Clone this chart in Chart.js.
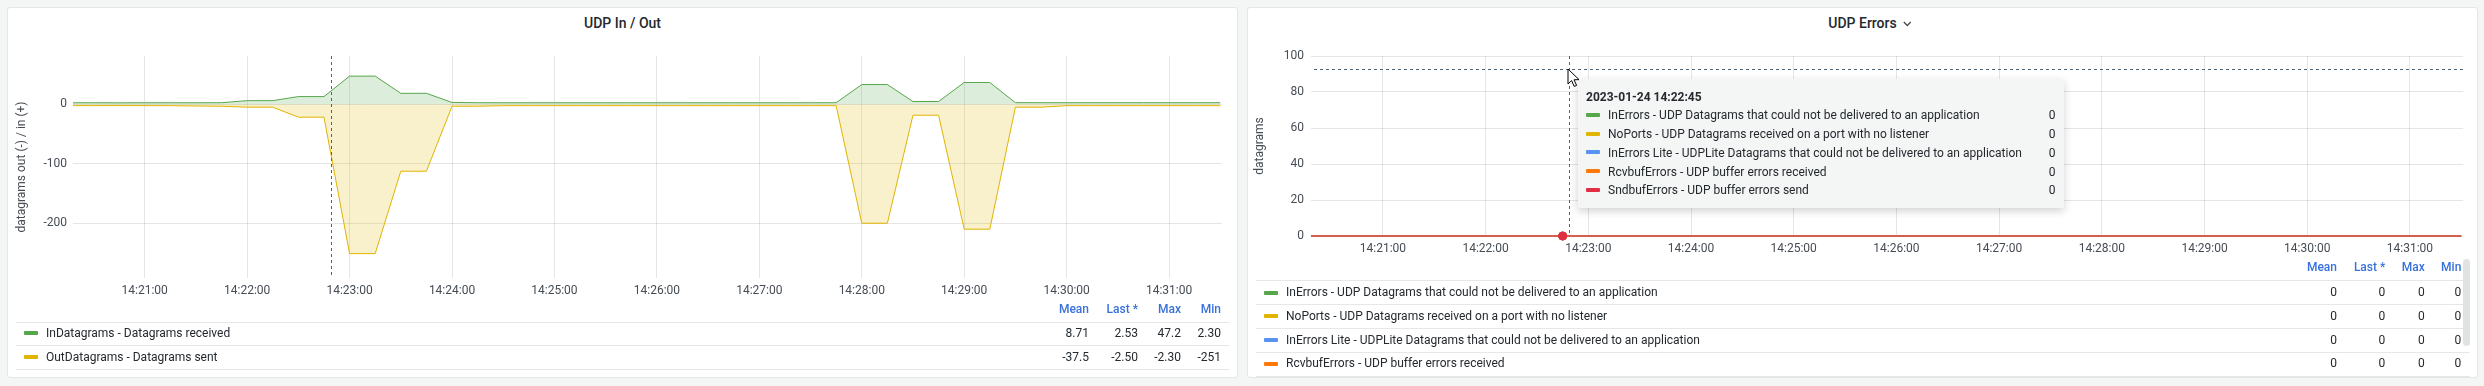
<!DOCTYPE html>
<html>
<head>
<meta charset="utf-8">
<title>UDP In / Out - UDP Errors</title>
<script src="https://cdn.jsdelivr.net/npm/chart.js@4.4.1/dist/chart.umd.min.js"></script>
<style>
  html, body { margin: 0; padding: 0; }
  body {
    width: 2484px; height: 386px; background: #f4f5f5; position: relative; overflow: hidden;
    font-family: Roboto, "Noto Sans", sans-serif; font-size: 12px; color: #24292e;
  }
  .panel {
    position: absolute; top: 7px; width: 1231px; height: 371px; background: #fff;
    border: 1px solid #e4e6e8; border-radius: 3px; box-sizing: border-box;
  }
  .ptitle {
    position: absolute; top: 15px; line-height: 16px; font-size: 14px; font-weight: 500;
    color: #24292e; white-space: nowrap; transform: translateX(-50%);
  }
  canvas { position: absolute; }
  #clip { position: absolute; left: 0; top: 0; width: 2484px; height: 377px; overflow: hidden; }
  .txt { position: absolute; white-space: nowrap; height: 16px; line-height: 16px; }
  .hd { color: #3871dc; font-weight: 500; }
  .sep { position: absolute; height: 1px; background: #e6e7e8; }
  .sw { position: absolute; width: 14px; height: 4px; border-radius: 1px; }
  #tip {
    position: absolute; left: 1578px; top: 79px; width: 486px; height: 129px;
    background: #f4f5f5; border-radius: 2px; box-shadow: 0 3px 8px rgba(24, 26, 27, 0.2);
  }
  #tip .txt { height: 18px; line-height: 18px; }
</style>
</head>
<body>
<div class="panel" style="left:7px"></div>
<div class="panel" style="left:1247px"></div>
<div class="ptitle" style="left:622.5px">UDP In / Out</div>
<div class="ptitle" style="left:1862.5px"><span style="position:relative">UDP Errors<svg style="position:absolute;left:100%;margin-left:6px;top:6px" width="9" height="6"><path d="M1 1 L4.5 4.5 L8 1" stroke="#464c54" stroke-width="1.3" fill="none"/></svg></span></div>

<canvas id="c1" width="1229" height="260" style="left:8px;top:40px"></canvas>
<canvas id="c2" width="1229" height="230" style="left:1248px;top:40px"></canvas>

<div id="clip"></div>
<div id="tip"></div>
<svg style="position:absolute;left:1567px;top:68px" width="14" height="20">
  <path d="M1 1 L1 16 L4.6 12.6 L7.2 18.4 L9.6 17.4 L7 11.8 L12 11.6 Z" fill="#fff" stroke="#000" stroke-width="1"/>
</svg>

<script>
// time stamps of the samples (15 s step)
const times = [
  '14:20:15', '14:20:30', '14:20:45', '14:21:00', '14:21:15', '14:21:30', '14:21:45', '14:22:00',
  '14:22:15', '14:22:30', '14:22:45', '14:23:00', '14:23:15', '14:23:30', '14:23:45', '14:24:00',
  '14:24:15', '14:24:30', '14:24:45', '14:25:00', '14:25:15', '14:25:30', '14:25:45', '14:26:00',
  '14:26:15', '14:26:30', '14:26:45', '14:27:00', '14:27:15', '14:27:30', '14:27:45', '14:28:00',
  '14:28:15', '14:28:30', '14:28:45', '14:29:00', '14:29:15', '14:29:30', '14:29:45', '14:30:00',
  '14:30:15', '14:30:30', '14:30:45', '14:31:00', '14:31:15', '14:31:30'
];
const xTicks = ['14:21:00', '14:22:00', '14:23:00', '14:24:00', '14:25:00', '14:26:00',
                '14:27:00', '14:28:00', '14:29:00', '14:30:00', '14:31:00'];

// UDP In / Out (in positive, out negative)
const inDatagrams = [
  2.4, 2.4, 2.3, 2.4, 2.4, 2.4, 2.5, 6.0, 6.0, 12.8, 12.8, 47.2, 47.2, 18.3, 18.3, 3.0,
  2.5, 2.4, 2.4, 2.4, 2.4, 2.4, 2.4, 2.4, 2.4, 2.4, 2.4, 2.4, 2.4, 2.4, 2.5, 33.0,
  33.0, 4.5, 4.5, 36.5, 36.5, 2.6, 2.5, 2.5, 2.5, 2.5, 2.5, 2.5, 2.5, 2.53
];
const outDatagrams = [
  -2.4, -2.4, -2.3, -2.4, -2.5, -3.0, -3.4, -5.0, -5.0, -21.8, -21.8, -251, -251, -112.6, -112.6, -3.4,
  -3.4, -2.5, -2.5, -2.5, -2.5, -2.5, -2.5, -2.5, -2.5, -2.5, -2.5, -2.5, -2.5, -2.5, -2.5, -200,
  -200, -18.5, -18.5, -210, -210, -5.0, -5.0, -2.5, -2.5, -2.5, -2.5, -2.5, -2.5, -2.5
];
const yTicks1 = [-200, -100, 0];

// UDP Errors
const inErrors = [
  0, 0, 0, 0, 0, 0, 0, 0, 0, 0, 0, 0, 0, 0, 0, 0, 0, 0, 0, 0, 0, 0, 0,
  0, 0, 0, 0, 0, 0, 0, 0, 0, 0, 0, 0, 0, 0, 0, 0, 0, 0, 0, 0, 0, 0, 0
];
const noPorts = [
  0, 0, 0, 0, 0, 0, 0, 0, 0, 0, 0, 0, 0, 0, 0, 0, 0, 0, 0, 0, 0, 0, 0,
  0, 0, 0, 0, 0, 0, 0, 0, 0, 0, 0, 0, 0, 0, 0, 0, 0, 0, 0, 0, 0, 0, 0
];
const inErrorsLite = [
  0, 0, 0, 0, 0, 0, 0, 0, 0, 0, 0, 0, 0, 0, 0, 0, 0, 0, 0, 0, 0, 0, 0,
  0, 0, 0, 0, 0, 0, 0, 0, 0, 0, 0, 0, 0, 0, 0, 0, 0, 0, 0, 0, 0, 0, 0
];
const rcvbufErrors = [
  0, 0, 0, 0, 0, 0, 0, 0, 0, 0, 0, 0, 0, 0, 0, 0, 0, 0, 0, 0, 0, 0, 0,
  0, 0, 0, 0, 0, 0, 0, 0, 0, 0, 0, 0, 0, 0, 0, 0, 0, 0, 0, 0, 0, 0, 0
];
const sndbufErrors = [
  0, 0, 0, 0, 0, 0, 0, 0, 0, 0, 0, 0, 0, 0, 0, 0, 0, 0, 0, 0, 0, 0, 0,
  0, 0, 0, 0, 0, 0, 0, 0, 0, 0, 0, 0, 0, 0, 0, 0, 0, 0, 0, 0, 0, 0, 0
];
const yTicks2 = [0, 20, 40, 60, 80, 100];

// legends
const statHeaders = ['Mean', 'Last *', 'Max', 'Min'];
const ioNames = ['InDatagrams - Datagrams received', 'OutDatagrams - Datagrams sent'];
const ioStats = [['8.71', '2.53', '47.2', '2.30'], ['-37.5', '-2.50', '-2.30', '-251']];
const errNames = [
  'InErrors - UDP Datagrams that could not be delivered to an application',
  'NoPorts - UDP Datagrams received on a port with no listener',
  'InErrors Lite - UDPLite Datagrams that could not be delivered to an application',
  'RcvbufErrors - UDP buffer errors received',
  'SndbufErrors - UDP buffer errors send'
];
const errStats = [['0', '0', '0', '0'], ['0', '0', '0', '0'], ['0', '0', '0', '0'], ['0', '0', '0', '0'], ['0', '0', '0', '0']];
const hoverStamp = '2023-01-24 14:22:45';
const hoverValues = ['0', '0', '0', '0', '0'];

const GREEN = '#56a64b', YELLOW = '#e0b400', BLUE = '#5794f2', ORANGE = '#ff780a', RED = '#e02f44';
const ioColors = [GREEN, YELLOW];
const errColors = [GREEN, YELLOW, BLUE, ORANGE, RED];
const GRID = 'rgba(0,0,0,0.1)';
const TICK = '#464c54';

const toSec = t => { const p = t.split(':').map(Number); return p[0] * 3600 + p[1] * 60 + p[2]; };
const fmt = v => {
  const h = Math.floor(v / 3600), m = Math.floor(v / 60) % 60, s = v % 60;
  return [h, m, s].map(n => String(n).padStart(2, '0')).join(':');
};
const pts = vals => vals.map((v, i) => ({ x: toSec(times[i]), y: v }));

Chart.defaults.font.family = 'Roboto';
Chart.defaults.font.size = 12;
Chart.defaults.color = TICK;

// dashed hover crosshair
const crosshair = {
  id: 'crosshair',
  afterDatasetsDraw(chart, args, opts) {
    const { ctx, chartArea: a, scales } = chart;
    ctx.save();
    ctx.strokeStyle = '#4f6275';
    ctx.lineWidth = 1;
    ctx.setLineDash([3, 3]);
    const px = Math.round(scales.x.getPixelForValue(toSec(opts.x))) + 0.5;
    ctx.beginPath();
    ctx.moveTo(px, a.top);
    ctx.lineTo(px, a.bottom);
    if (opts.y !== undefined) {
      const py = Math.round(scales.y.getPixelForValue(opts.y)) + 0.5;
      ctx.moveTo(a.left + 3, py);
      ctx.lineTo(a.right, py);
    }
    ctx.stroke();
    ctx.restore();
  }
};

function xScale(afterH) {
  return {
    type: 'linear',
    min: toSec('14:20:18'),
    max: toSec('14:31:31'),
    afterBuildTicks: s => { s.ticks = xTicks.map(t => ({ value: toSec(t) })); },
    ticks: { callback: v => fmt(v), padding: 6, maxRotation: 0, autoSkip: false, color: TICK },
    grid: { color: GRID, drawTicks: false },
    border: { display: false },
    afterFit: s => { s.height = afterH; }
  };
}

// UDP In / Out
new Chart(document.getElementById('c1'), {
  type: 'line',
  data: {
    datasets: [
      { label: ioNames[0], data: pts(inDatagrams), borderColor: GREEN, backgroundColor: 'rgba(86,166,75,0.2)', fill: 'origin' },
      { label: ioNames[1], data: pts(outDatagrams), borderColor: YELLOW, backgroundColor: 'rgba(224,180,0,0.2)', fill: 'origin' }
    ]
  },
  options: {
    responsive: false,
    animation: false,
    layout: { padding: { top: 16, right: 15, left: 0, bottom: 0 } },
    elements: { point: { radius: 0 }, line: { borderWidth: 1, tension: 0 } },
    plugins: { legend: { display: false }, tooltip: { enabled: false }, crosshair: { x: '14:22:49' } },
    scales: {
      x: xScale(22),
      y: {
        min: -292, max: 81,
        afterBuildTicks: s => { s.ticks = yTicks1.map(v => ({ value: v })); },
        ticks: { padding: 6, color: TICK },
        grid: { color: GRID, drawTicks: false },
        border: { display: false },
        title: { display: true, text: 'datagrams out (-) / in (+)', color: TICK, padding: { top: 7, bottom: 0 } },
        afterFit: s => { s.width = 65; }
      }
    }
  },
  plugins: [crosshair]
});

// UDP Errors
const errSeries = [inErrors, noPorts, inErrorsLite, rcvbufErrors, sndbufErrors];
const hoverSec = toSec('14:22:45');
new Chart(document.getElementById('c2'), {
  type: 'line',
  data: {
    datasets: errSeries.map((vals, i) => ({
      label: errNames[i],
      data: pts(vals),
      borderColor: errColors[i],
      backgroundColor: errColors[i],
      pointBackgroundColor: errColors[i],
      pointBorderColor: errColors[i],
      order: errSeries.length - i,
      clip: { left: 0, right: 0, top: 0, bottom: 8 },
      pointRadius: c => (c.raw && c.raw.x === hoverSec ? 4 : 0)
    }))
  },
  options: {
    responsive: false,
    animation: false,
    layout: { padding: { top: 16, right: 14, left: 0, bottom: 0 } },
    elements: { line: { borderWidth: 1, tension: 0 } },
    plugins: { legend: { display: false }, tooltip: { enabled: false }, crosshair: { x: '14:22:49', y: 92.8 } },
    scales: {
      x: xScale(34),
      y: {
        min: 0, max: 100,
        afterBuildTicks: s => { s.ticks = yTicks2.map(v => ({ value: v })); },
        ticks: { padding: 7, color: TICK },
        grid: { color: GRID, drawTicks: false },
        border: { display: false },
        title: { display: true, text: 'datagrams', color: TICK, padding: { top: 5, bottom: 0 } },
        afterFit: s => { s.width = 63; }
      }
    }
  },
  plugins: [crosshair]
});

// legend tables (html, like grafana)
const clip = document.getElementById('clip');
function text(parent, x, yc, str, cls, alignRight, parentW) {
  const d = document.createElement('div');
  d.className = 'txt' + (cls ? ' ' + cls : '');
  d.textContent = str;
  d.style.top = (yc - 8) + 'px';
  if (alignRight) d.style.right = (parentW - x) + 'px'; else d.style.left = x + 'px';
  parent.appendChild(d);
  return d;
}
function box(parent, cls, x, y, w, color) {
  const d = document.createElement('div');
  d.className = cls;
  d.style.left = x + 'px';
  d.style.top = y + 'px';
  if (w) d.style.width = w + 'px';
  if (color) d.style.background = color;
  parent.appendChild(d);
}
function legend(cfg) {
  cfg.headers.forEach((h, j) => text(clip, cfg.cols[j], cfg.headY, h, 'hd', true, 2484));
  cfg.seps.forEach(y => box(clip, 'sep', cfg.x0, y, cfg.x1 - cfg.x0));
  cfg.names.forEach((n, i) => {
    const yc = cfg.rowY[i];
    box(clip, 'sw', cfg.swX, yc - 1.5, 0, cfg.colors[i]);
    text(clip, cfg.swX + 22, yc, n);
    cfg.stats[i].forEach((v, j) => text(clip, cfg.cols[j], yc, v, '', true, 2484));
  });
}
legend({
  headers: statHeaders, names: ioNames, stats: ioStats, colors: ioColors,
  cols: [1089, 1138, 1181, 1221], headY: 308.7, seps: [321.5, 345.3, 369.2],
  rowY: [332.9, 356.8], x0: 16, x1: 1229, swX: 24
});
legend({
  headers: statHeaders, names: errNames, stats: errStats, colors: errColors,
  cols: [2337, 2385.3, 2424.7, 2461.3], headY: 267.3, seps: [280.3, 304.3, 328.3, 352.3, 376.3],
  rowY: [292.3, 315.9, 339.7, 363.4, 387.3], x0: 1256, x1: 2470, swX: 1264
});
// legend scrollbar
const sb = document.createElement('div');
sb.style.cssText = 'position:absolute;left:2463px;top:259px;width:7px;height:87px;border-radius:4px;background:#e1e2e3';
clip.appendChild(sb);

// hover tooltip of the errors panel
const tip = document.getElementById('tip');
text(tip, 8, 16.7, hoverStamp, '', false).style.fontWeight = '700';
errNames.forEach((n, i) => {
  const yc = 35.4 + i * 18.7;
  box(tip, 'sw', 8, yc - 1.5, 0, errColors[i]);
  text(tip, 30, yc, n);
  text(tip, 477.5, yc, hoverValues[i], '', true, 486);
});
</script>
</body>
</html>
